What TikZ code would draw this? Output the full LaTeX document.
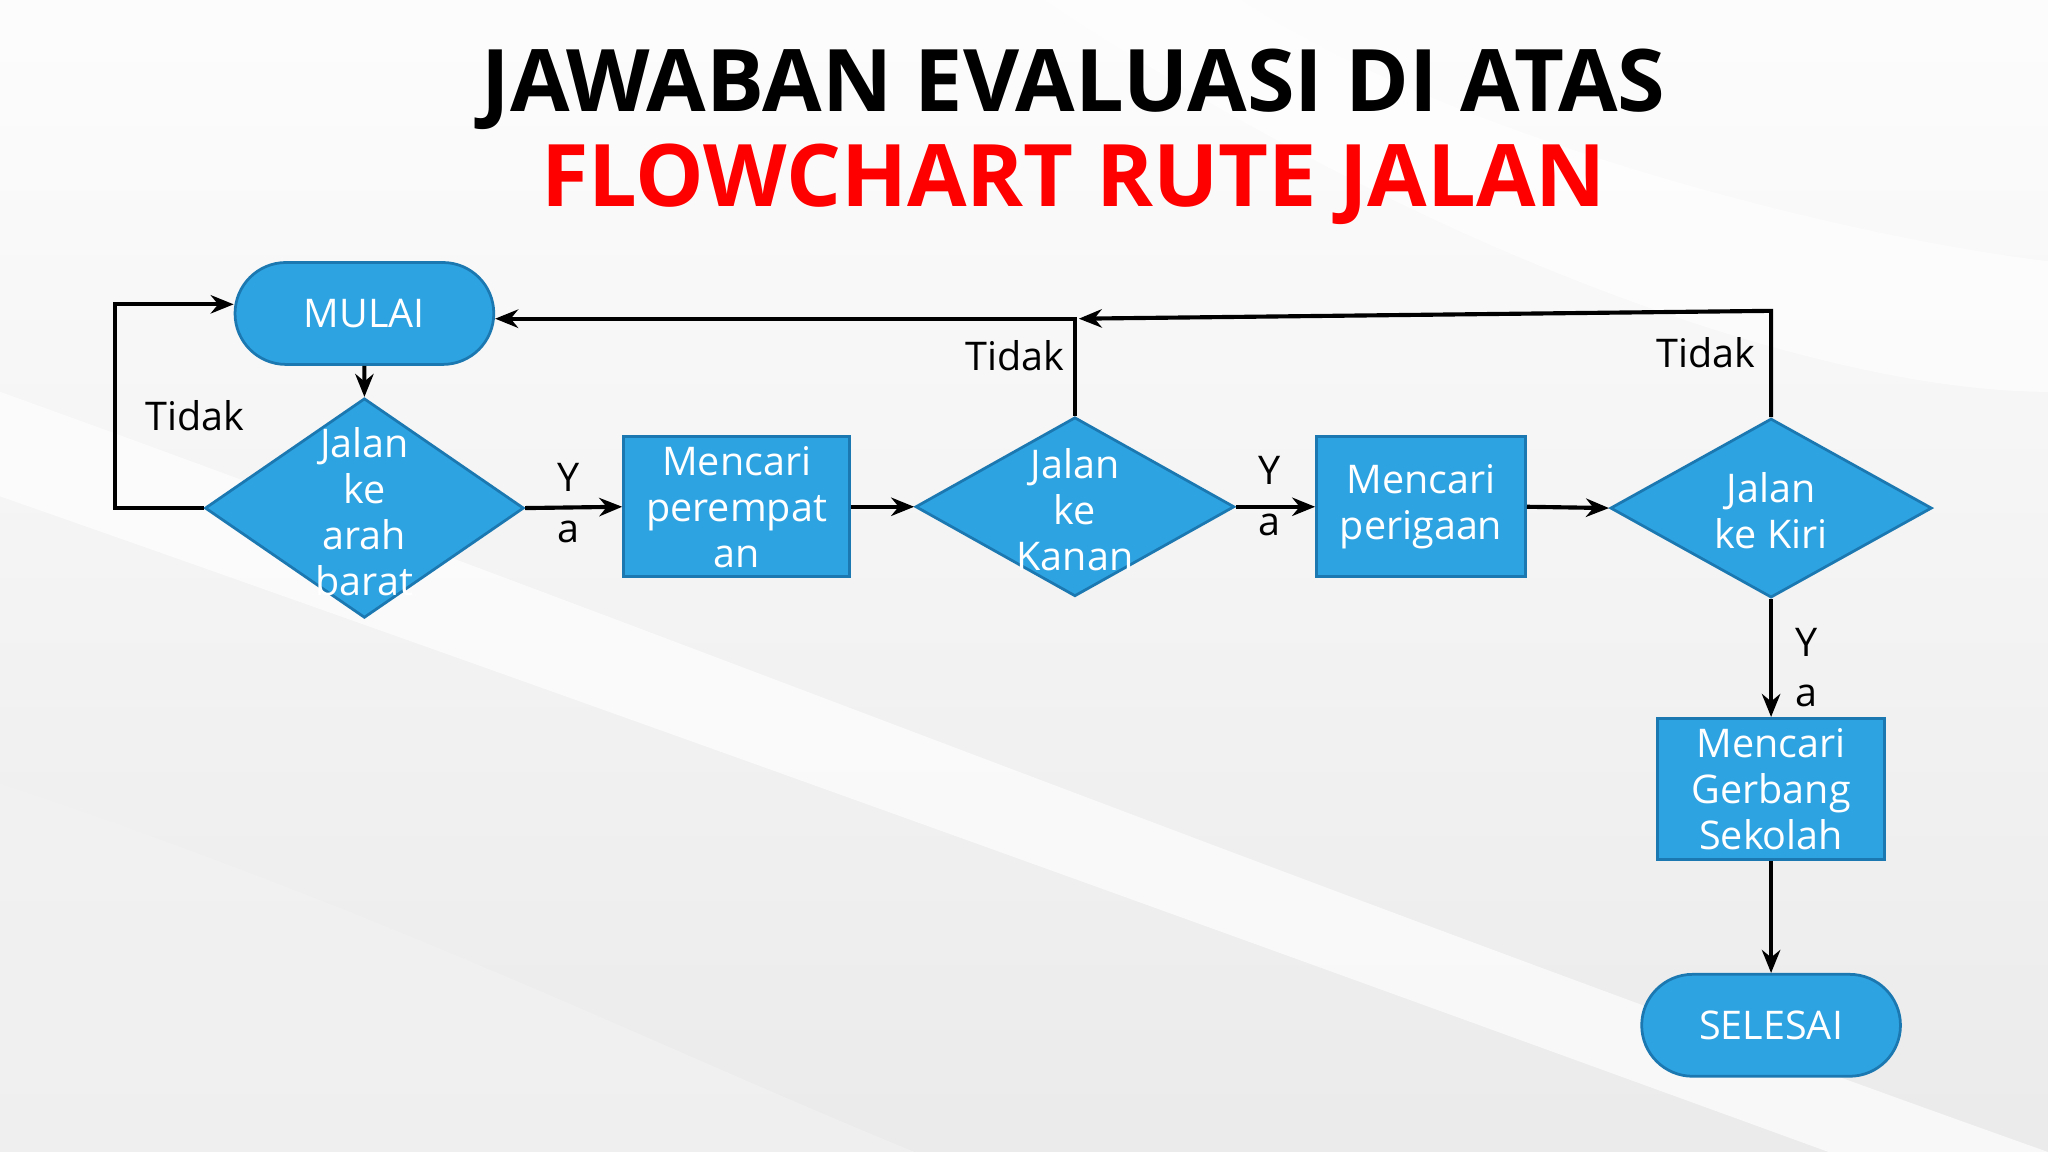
\documentclass[tikz,border=0pt]{standalone}
\usepackage{fontspec}
\setmainfont{Open Sans}
\usetikzlibrary{shapes.geometric,shapes.misc,arrows.meta}
\definecolor{fc}{HTML}{2EA3E2}
\definecolor{bc}{HTML}{1C78B0}
\tikzset{
 x=0.01cm,y=-0.01cm,
 box/.style={draw=bc,fill=fc,line width=0.6pt,inner sep=0,text=white,align=center,font=\fontsize{8.6}{10}\selectfont},
 term/.style={box,rounded rectangle,minimum width=1.98cm,minimum height=0.78cm},
 dia/.style={box,diamond,minimum width=2.44cm,minimum height=1.6cm},
 txt/.style={text=white,align=center,font=\fontsize{8.6}{10}\selectfont,inner sep=0},
 lbl/.style={align=center,font=\fontsize{8.6}{11}\selectfont,inner sep=0},
 conn/.style={line width=0.9pt,-{Stealth[length=5pt,width=4pt]}},
 ttl/.style={font=\fontsize{18.8}{22}\selectfont\bfseries}
}
\begin{document}
\begin{tikzpicture}
\shade[top color=gray!2,bottom color=gray!16] (0,0) rectangle (1568,882);
\useasboundingbox (0,0) rectangle (1568,882);
\fill[gray!10,opacity=0.7] (0,600) .. controls (300,700) and (500,800) .. (700,882) -- (0,882) -- cycle;
\fill[white,opacity=0.65] (0,300) .. controls (500,480) and (1000,680) .. (1568,882) -- (1400,882) .. controls (900,700) and (400,520) .. (0,380) -- cycle;
\fill[white,opacity=0.6] (800,0) .. controls (1100,200) and (1400,300) .. (1568,300) -- (1568,200) .. controls (1400,180) and (1100,100) .. (950,0) -- cycle;
\node[ttl] (t1) at (822,68) {JAWABAN EVALUASI DI ATAS};
\node[ttl,text=red] (t2) at (822,141) {FLOWCHART RUTE JALAN};

\node[term] (start) at (279,240) {MULAI};
\node[dia,minimum width=2.44cm,minimum height=1.68cm] (d1) at (279,389) {};
\node[txt] (d1t) at (279,392) {Jalan\\ke\\arah\\barat};
\node[box,minimum width=1.73cm,minimum height=1.07cm] (b1) at (564,388) {Mencari\\perempat\\an};
\node[dia,minimum height=1.37cm] (d2) at (823,388) {};
\node[txt] (d2t) at (823,390) {Jalan\\ke\\Kanan};
\node[box,minimum width=1.6cm,minimum height=1.07cm] (b2) at (1088,388) {Mencari\\perigaan};
\node[dia,minimum width=2.46cm,minimum height=1.37cm] (d3) at (1356,389) {};
\node[txt] (d3t) at (1356,391) {Jalan\\ke Kiri};
\node[box,minimum width=1.74cm,minimum height=1.08cm] (b3) at (1356,604) {Mencari\\Gerbang\\Sekolah};
\node[term] (end) at (1356,785) {SELESAI};

\draw[conn] (start) -- (d1);
\draw[conn] (d1.east) -- (b1.west);
\draw[conn] (b1.east) -- (d2.west);
\draw[conn] (d2.east) -- (b2.west);
\draw[conn] (b2.east) -- (d3.west);
\draw[conn] (d3.south) -- (b3.north);
\draw[conn] (b3.south) -- (end.north);
\coordinate (c1) at (88,389);
\coordinate (c2) at (88,233);
\draw[conn] (d1.west) -- (c1) -- (c2) -- (c2 -| start.west);
\coordinate (c3) at (823,244);
\draw[conn] (d2.north) -- (c3) -- (c3 -| start.east);
\coordinate (c4) at (1356,238);
\coordinate (c5) at (826,244);
\draw[conn] (d3.north) -- (c4) -- (c5);

\node[lbl] (l1) at (149,318) {Tidak};
\node[lbl] (l2) at (777,272) {Tidak};
\node[lbl] (l3) at (1306,270) {Tidak};
\node[lbl] (y1) at (435,385) {Y\\a};
\node[lbl] (y2) at (972,380) {Y\\a};
\node[lbl] (y3) at (1383,511) {Y\\a};
\end{tikzpicture}
\end{document}
